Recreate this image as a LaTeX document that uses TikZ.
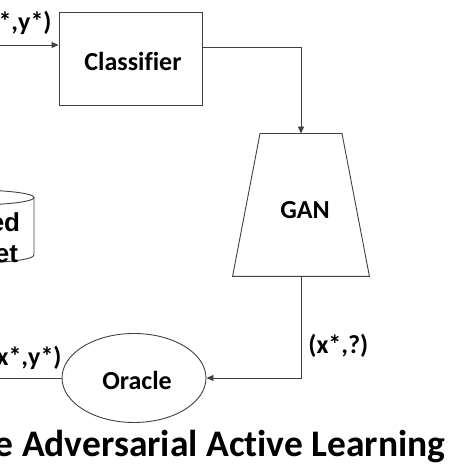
\documentclass[tikz,border=0pt]{standalone}
\usepackage{fontspec}
\setmainfont{Carlito}[Ligatures=NoCommon]
\newfontfamily\arialfont{Liberation Sans}
\usetikzlibrary{positioning,arrows.meta,shapes.geometric}

\begin{document}
\begin{tikzpicture}[
  x=1pt, y=1pt,
  font=\fontsize{26}{30}\selectfont\bfseries,
  line width=0.9pt,
  blk/.style={draw=black!75, line width=0.9pt, align=center, inner sep=2pt},
  lbl/.style={inner sep=0pt, text=black},
  wire/.style={draw=black!75},
  arr/.style={wire, -{Triangle[length=7pt,width=6pt]}}
]
\useasboundingbox (0,0) rectangle (474,474);
\clip (0,0) rectangle (474,474);

\node[blk, rectangle, minimum width=143pt, minimum height=93pt] (clf) at (130.5,415.5) {};
\node[lbl] (clflbl) at (133,413) {Classifier};
% GAN block, narrow at the top
\node[inner sep=0pt, minimum width=136pt, minimum height=142pt] (gan) at (301,269) {};
\draw[wire] ([xshift=-41pt]gan.north) -- ([xshift=41pt]gan.north) -- (gan.south east) -- (gan.south west) -- cycle;
\node[lbl] (ganlbl) at (305,264) {GAN};
\node[blk, ellipse, minimum width=144pt, minimum height=89pt] (oracle) at (134,96) {};
\node[lbl] (oraclelbl) at (137,94) {Oracle};

% labelled data store
\draw[wire] (-90,276.5) -- (-90,219) arc[start angle=180, end angle=360, x radius=62, y radius=8] -- (34,276.5);
\draw[wire] (-28,276.5) ellipse[x radius=62, y radius=7.5];
\node[lbl, align=center, font=\arialfont\fontsize{26}{31}\selectfont\bfseries] (ds) at (-29,236) {Labeled\\Dataset};

\coordinate (inA) at (-10,429);
\coordinate (outB) at (-10,96);
\coordinate (clfout) at (202,427);

\draw[arr] (inA) -- (inA -| clf.west);
\node[lbl, anchor=east] (lblin) at (52,451) {(x*,y*)};
\draw[arr] (clfout) -| (gan.north);
\draw[arr] (gan.south) |- (oracle.east);
\node[lbl, anchor=west] (lblq) at (308,128) {(x*,?)};
\draw[wire] (oracle.west) -- (outB);
\node[lbl, anchor=east] (lblout) at (62,116) {(x*,y*)};

\node[lbl, anchor=base east, font=\fontsize{37.5}{40}\selectfont\bfseries] (title) at (446,17) {Generative Adversarial Active Learning};
\end{tikzpicture}
\end{document}
